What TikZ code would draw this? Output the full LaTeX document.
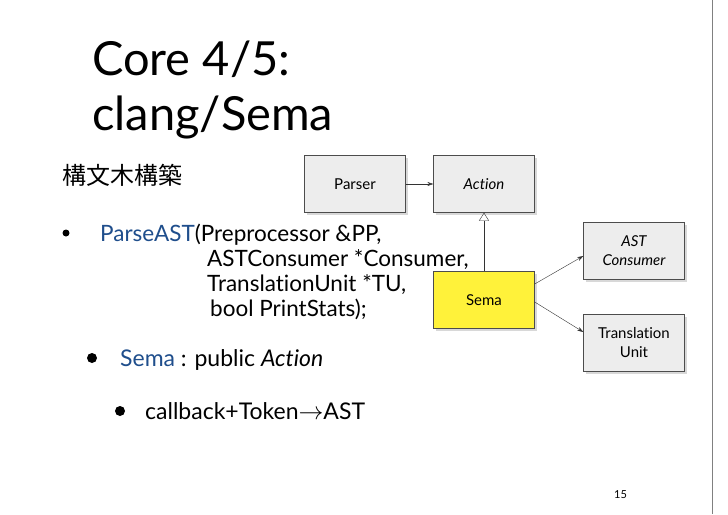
\documentclass[tikz,border=0pt]{standalone}
\usepackage{fontspec}
\setmainfont{Lato}[Ligatures=NoCommon]
\newfontfamily\cjk{Noto Sans CJK JP}
\usetikzlibrary{arrows.meta,shadows}
\definecolor{kw}{HTML}{1F4E8C}
\definecolor{boxgray}{HTML}{EDEDED}
\definecolor{semay}{HTML}{FFF23A}
\begin{document}
\begin{tikzpicture}[x=1pt,y=-1pt,
  box/.style={draw=black!70,fill=boxgray,minimum width=101pt,minimum height=57pt,align=center,font=\fontsize{15}{19}\selectfont,drop shadow={shadow xshift=2pt,shadow yshift=-2pt,opacity=0.3}},
  txt/.style={anchor=base west,inner sep=0pt,font=\fontsize{22.5}{26}\selectfont},
  bul/.style={circle,fill=black,inner sep=0pt,minimum size=10pt},
  arr/.style={-{Stealth[length=6pt,width=4pt]},black!80}]
\useasboundingbox (0,0) rectangle (728,514);
\fill[white] (0,0) rectangle (728,514);
\draw[black!50] (712,0) -- (712,514);
\node[txt,font=\fontsize{47}{50}\selectfont] (t1) at (92,75) {Core 4/5:};
\node[txt,font=\fontsize{47}{50}\selectfont] (t2) at (92,130) {clang/Sema};
\node[txt,font=\cjk\fontsize{24}{28}\selectfont] (jp) at (62,184) {構文木構築};
\node[bul,minimum size=7pt] (b1) at (66,233) {};
\node[txt] (l1) at (100,241) {\textcolor{kw}{ParseAST}(Preprocessor \&PP,};
\node[txt] (l2) at (207,266) {ASTConsumer *Consumer,};
\node[txt] (l3) at (207,291) {TranslationUnit *TU,};
\node[txt] (l4) at (210,316) {bool PrintStats);};
\node[bul] (b2) at (92,358) {};
\node[txt,font=\fontsize{23}{26}\selectfont] (l5) at (120,366) {\textcolor{kw}{Sema} : public \textit{Action}};
\node[bul] (b3) at (120,411) {};
\node[txt,font=\fontsize{23}{26}\selectfont] (l6) at (145,419) {callback+Token$\rightarrow$AST};
\node[txt,font=\fontsize{11}{13}\selectfont] (pg) at (614,498) {15};
\node[box] (parser) at (355,184) {Parser};
\node[box] (action) at (484,184) {\itshape Action};
\node[box,fill=semay] (sema) at (484,300) {Sema};
\node[box] (ast) at (634,251) {\itshape AST\\\itshape Consumer};
\node[box] (tu) at (634,343) {Translation\\Unit};
\draw[arr] (parser) -- (action);
\draw[-{Triangle[open,length=8pt,width=10pt]},black!80] (sema) -- (action);
\draw[arr] (sema.east |- 0,284) -- (ast.west |- 0,256);
\draw[arr] (sema.east |- 0,302) -- (tu.west |- 0,332);
\end{tikzpicture}
\end{document}
